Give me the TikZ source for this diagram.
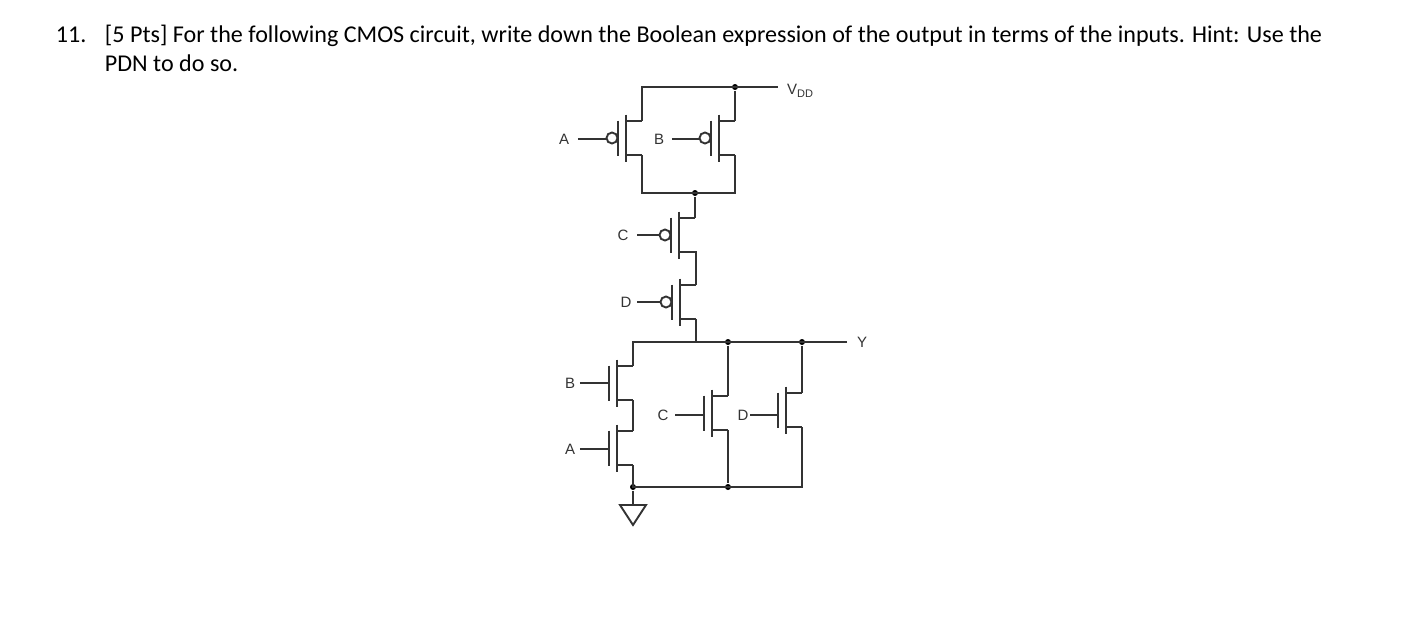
\documentclass[tikz,border=0pt]{standalone}
\usepackage{fontspec}
\setmainfont{Carlito}
\newfontfamily\circuitfont{Liberation Sans}
\usetikzlibrary{positioning,calc}
\definecolor{wire}{HTML}{333333}
\tikzset{
  every path/.style={line width=1.9pt,color=wire},
  title/.style={anchor=base west,inner sep=0pt,text=black,font=\fontsize{24.1}{28}\selectfont},
  sig/.style={inner sep=0pt,text=wire,font=\circuitfont\fontsize{15}{16}\selectfont},
  dot/.style={circle,fill=black,draw=none,inner sep=0pt,minimum size=6pt},
  nmos/.pic={
    \draw (-8,-17.5) -- (-8,17.5);
    \draw (0,-23.5) -- (0,23.5);
    \draw (0,-17) -- (16,-17) coordinate (-top);
    \draw (0,17) -- (16,17) coordinate (-bot);
    \coordinate (-gate) at (-8,0);
  },
  pmos/.pic={
    \draw (-8,-17.5) -- (-8,17.5);
    \draw (0,-23.5) -- (0,23.5);
    \draw (0,-17) -- (16,-17) coordinate (-top);
    \draw (0,17) -- (16,17) coordinate (-bot);
    \draw (-14,0) circle (5.5);
    \coordinate (-gate) at (-19.5,0);
  },
}
\begin{document}
\begin{tikzpicture}[x=1pt,y=-1pt]
  \useasboundingbox (0,0) rectangle (1417,640);
  \node[title] (line0) at (55,42) {11.};
  \node[title] (line1) at (104,42) {[5 Pts] For the following CMOS circuit, write down the Boolean expression of the output in terms of the inputs. Hint: Use the};
  \node[title] (line2) at (104,71) {PDN to do so.};

  % pull-up network
  \pic (pA) at (626,138) {pmos};
  \pic (pB) at (719,138) {pmos};
  \pic (pC) at (679,235) {pmos};
  \pic (pD) at (680,302) {pmos};
  % pull-down network
  \pic (nB) at (617,383) {nmos};
  \pic (nA) at (617,448) {nmos};
  \pic (nC) at (712,413) {nmos};
  \pic (nD) at (786,410) {nmos};

  \node[sig] (lpA) at (564,139) {A};
  \node[sig] (lpB) at (659,139) {B};
  \node[sig] (lpC) at (623,235) {C};
  \node[sig] (lpD) at (626,302) {D};
  \node[sig] (lnB) at (570,383) {B};
  \node[sig] (lnA) at (570,449) {A};
  \node[sig] (lnC) at (663,415) {C};
  \node[sig] (lnD) at (743,415) {D};
  \node[sig] (vdd) at (800,91) {V\raisebox{-2.5pt}{\fontsize{11}{11}\selectfont DD}};
  \node[sig] (out) at (862,342) {Y};

  \node[dot] (dVdd) at (735,87) {};
  \node[dot] (dP) at (695,193) {};
  \node[dot] (dY1) at (728,342) {};
  \node[dot] (dY2) at (802,342) {};
  \node[dot] (dG1) at (633,487) {};
  \node[dot] (dG2) at (728,487) {};
  \coordinate (vddEnd) at (778,87);
  \coordinate (outEnd) at (847,342);
  \coordinate (outLeft) at (633,342);
  \coordinate (gndTop) at (633,505);

  \foreach \g/\l/\gap in {pA/lpA/8,pB/lpB/7,pC/lpC/8,pD/lpD/5,nB/lnB/4,nA/lnA/4,nC/lnC/6,nD/lnD/1}
    \draw (\l.east) ++(\gap,0) coordinate (tmp) -- (tmp -| \g-gate);

  \draw (pA-top) |- (vddEnd);
  \draw (pB-top) -- (dVdd);
  \draw (pA-bot) |- (dP.center) -| (pB-bot);
  \draw (dP) |- (pC-top);
  \draw (pC-bot) -- ++(1,0) |- (pD-top);
  \draw (pD-bot) -- (pD-bot |- outEnd);

  \draw (outEnd) -- (outLeft) -- (nB-top);
  \draw (nB-bot) -- (nA-top);
  \draw (nA-bot) -- (dG1.center) -- (nD-bot |- dG1) -- (nD-bot);
  \draw (dY1) -- (nC-top);
  \draw (nC-bot) -- (dG2);
  \draw (dY2) -- (nD-top);
  \draw (dG1) -- (gndTop);
  \draw (gndTop) ++(-13,0) coordinate (gndL) -- ++(26,0) coordinate (gndR) -- (gndTop |- 0,525) coordinate (gndTip) -- cycle;
\end{tikzpicture}
\end{document}
